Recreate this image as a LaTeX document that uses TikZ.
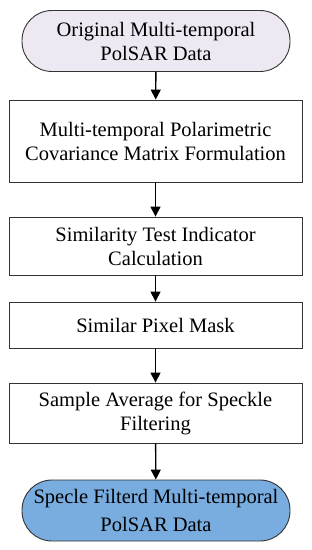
\documentclass[tikz,border=0pt]{standalone}
\usepackage{fontspec}
\setmainfont{Liberation Serif}
\usetikzlibrary{positioning,arrows.meta}
\definecolor{cTermTop}{HTML}{EDE8F1}
\definecolor{cTermEnd}{HTML}{79ADE0}
\definecolor{cEdge}{HTML}{333333}
\tikzset{
  terminal/.style={draw=cEdge, line width=0.9pt, rounded corners=30pt,
                   minimum width=268pt, minimum height=61pt, inner sep=0pt,
                   align=center, font=\fontsize{20.5}{24}\selectfont},
  stepbox/.style={draw=cEdge, line width=0.9pt, fill=white,
                  minimum width=293pt, inner sep=0pt,
                  align=center, font=\fontsize{20.5}{24}\selectfont},
  flow/.style={-{Triangle[length=10pt,width=10pt]}, line width=1.4pt},
}
\begin{document}
\begin{tikzpicture}[x=1pt,y=1pt]
\useasboundingbox (0,0) rectangle (312,-550);

% ========== TERMINALS AND STEPS ==========
\node[terminal, fill=cTermTop] (start) at (156,-41)
  {Original Multi-temporal\\PolSAR Data};
\node[stepbox, minimum height=82pt] (cov) at (155.5,-141)
  {Multi-temporal Polarimetric\\Covariance Matrix Formulation};
\node[stepbox, minimum height=58pt] (sim) at (155.5,-246)
  {Similarity Test Indicator\\Calculation};
\node[stepbox, minimum height=46pt] (mask) at (155.5,-325)
  {Similar Pixel Mask};
\node[stepbox, minimum height=60pt] (avg) at (155.5,-413)
  {Sample Average for Speckle\\Filtering};
\node[terminal, fill=cTermEnd] (result) at (156,-510.5)
  {Specle Filterd Multi-temporal\\[4pt]PolSAR Data};

% ========== CONNECTORS ==========
\draw[flow] (start) -- (cov);
\draw[flow] (cov) -- (sim);
\draw[flow] (sim) -- (mask);
\draw[flow] (mask) -- (avg);
\draw[flow] (avg) -- (result);

\end{tikzpicture}
\end{document}
